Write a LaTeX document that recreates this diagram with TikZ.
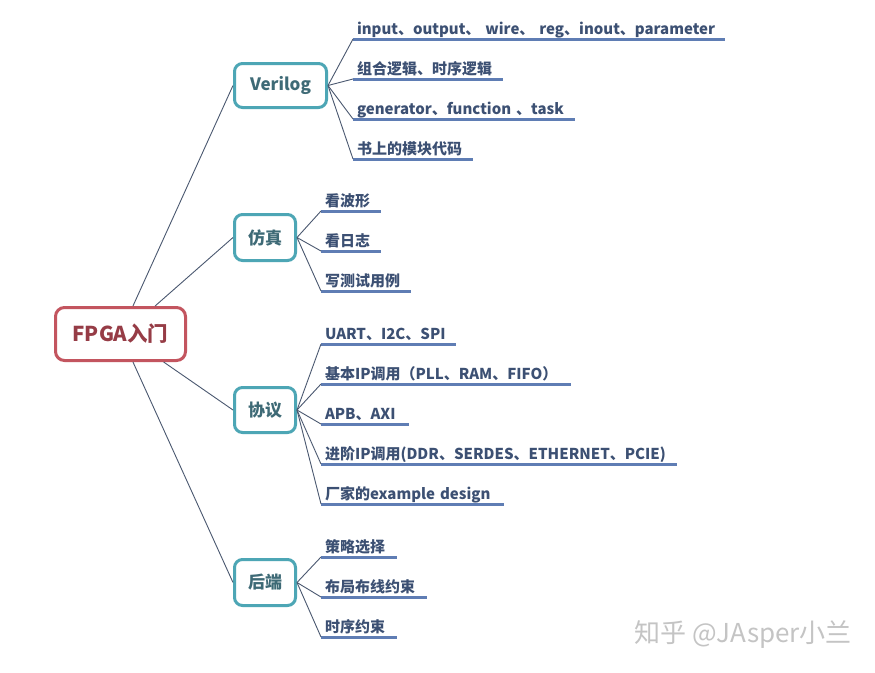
\documentclass[tikz,border=0pt]{standalone}
\usepackage{fontspec}
\setmainfont{Noto Sans CJK SC}
\definecolor{tealb}{HTML}{4DA6B5}
\definecolor{tealt}{HTML}{3E6A76}
\definecolor{rootb}{HTML}{C3555F}
\definecolor{roott}{HTML}{963C46}
\definecolor{ulc}{HTML}{5F7DB4}
\definecolor{leaft}{HTML}{3C5073}
\definecolor{connc}{HTML}{4A5870}
\definecolor{wmc}{HTML}{C4C4C4}
\begin{document}
\begin{tikzpicture}[x=1pt,y=-1pt,
  rootbox/.style={draw=rootb, line width=3pt, rounded corners=9pt, fill=white,
    text=roott, font=\fontsize{20.5}{24}\selectfont\bfseries,
    minimum width=130pt, minimum height=53pt, inner sep=0pt},
  midbox/.style={draw=tealb, line width=3pt, rounded corners=8pt, fill=white,
    text=tealt, font=\fontsize{17}{20}\selectfont\bfseries, inner sep=0pt},
  uline/.style={draw=ulc, line width=3pt},
  leaf/.style={anchor=south west, inner xsep=4pt, inner ysep=1pt, outer sep=0pt,
    text height=11pt, text depth=4pt, align=left, text=leaft,
    font=\fontsize{15}{18}\selectfont\bfseries, text width=#1,
    execute at begin node={\hbox\bgroup}, execute at end node={\egroup},
    append after command={(\tikzlastnode.south west) edge[uline] (\tikzlastnode.south east)}},
  conn/.style={draw=connc, line width=0.9pt},
  wm/.style={text=wmc, font=\fontsize{26}{30}\selectfont, inner sep=0pt}
]
\useasboundingbox (0,0) rectangle (875,672);
\fill[white] (0,0) rectangle (875,672);

% main boxes
\node[rootbox] (root) at (120.5,334) {FPGA入门};
\node[midbox, minimum width=92pt, minimum height=44pt] (ver) at (280.5,85.5) {Verilog};
\node[midbox, minimum width=61pt, minimum height=46pt] (fz) at (265,237.5) {仿真};
\node[midbox, minimum width=61pt, minimum height=45pt] (xy) at (265,410) {协议};
\node[midbox, minimum width=61pt, minimum height=46pt] (hd) at (265,582.5) {后端};

% leaves: Verilog
\node[leaf=364pt] (v1) at (353,39) {input、output、 wire、 reg、inout、parameter};
\node[leaf=142pt] (v2) at (353,79) {组合逻辑、时序逻辑};
\node[leaf=214pt] (v3) at (353,119) {generator、function 、task};
\node[leaf=112pt] (v4) at (353,159) {书上的模块代码};
% leaves: 仿真
\node[leaf=52pt] (f1) at (321,211) {看波形};
\node[leaf=52pt] (f2) at (321,251) {看日志};
\node[leaf=82pt] (f3) at (321,291) {写测试用例};
% leaves: 协议
\node[leaf=127pt] (x1) at (321,344) {UART、I2C、SPI};
\node[leaf=242pt] (x2) at (321,384) {基本IP调用（PLL、RAM、FIFO）};
\node[leaf=80pt] (x3) at (321,424) {APB、AXI};
\node[leaf=348pt] (x4) at (321,464) {进阶IP调用(DDR、SERDES、ETHERNET、PCIE)};
\node[leaf=175pt] (x5) at (321,504) {厂家的example design};
% leaves: 后端
\node[leaf=68pt] (h1) at (321,557) {策略选择};
\node[leaf=98pt] (h2) at (321,597) {布局布线约束};
\node[leaf=68pt] (h3) at (321,637) {时序约束};

% connectors root -> mid
\draw[conn] (root.66) -- (ver.west);
\draw[conn] (root.39) -- (fz.west);
\draw[conn] (root.-33) -- (xy.west);
\draw[conn] (root.-66) -- (hd.west);

% connectors mid -> leaves
\foreach \l in {v1,v2,v3,v4} \draw[conn] (ver.east) -- (\l.south west);
\foreach \l in {f1,f2,f3} \draw[conn] (fz.east) -- (\l.south west);
\foreach \l in {x1,x2,x3,x4,x5} \draw[conn] (xy.east) -- (\l.south west);
\foreach \l in {h1,h2,h3} \draw[conn] (hd.east) -- (\l.south west);

% watermark
\node[wm] (wmark) at (743,635) {知乎 @JAsper小兰};
\end{tikzpicture}
\end{document}
